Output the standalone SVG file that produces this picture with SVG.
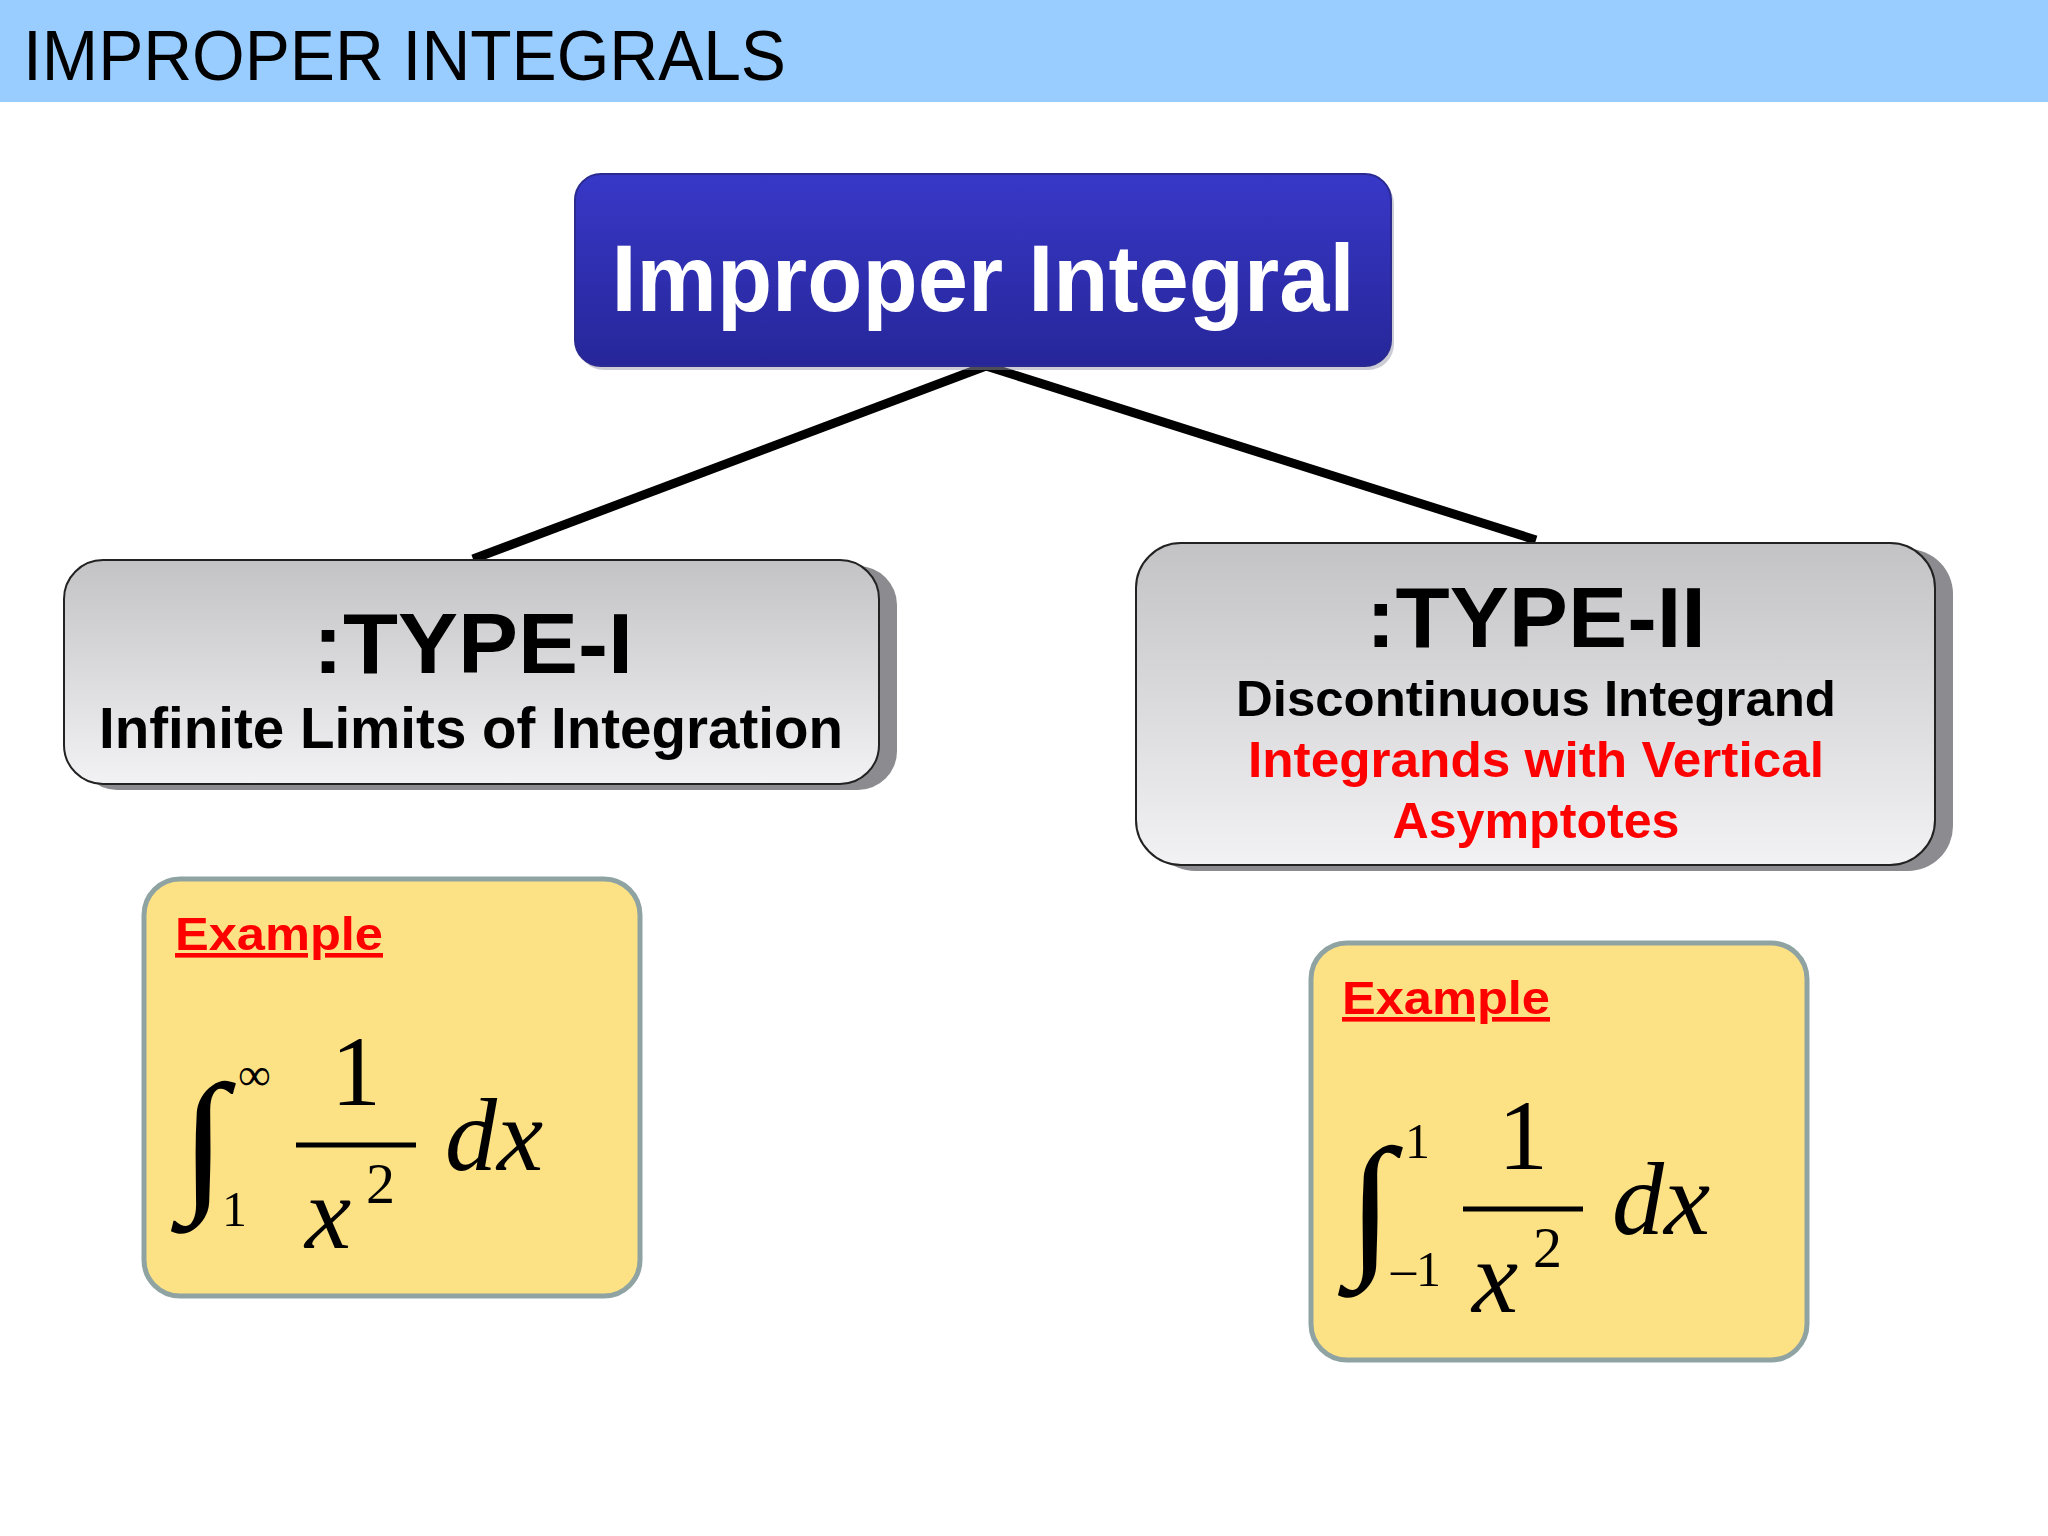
<svg xmlns="http://www.w3.org/2000/svg" width="2048" height="1536" viewBox="0 0 2048 1536">
<style>
.sans{font-family:"Liberation Sans",Arial,sans-serif}
.b{font-weight:bold}
.math{font-family:"Liberation Serif","Times New Roman",serif;fill:#000}
.it{font-style:italic}
.ex{fill:#fde185;stroke:#8fa3a3;stroke-width:5}
.gray{fill:url(#gg);stroke:#222;stroke-width:2}
.shadow{fill:#8c8c90}
</style>
<defs>
<linearGradient id="bg" x1="0" y1="0" x2="0" y2="1"><stop offset="0" stop-color="#3838c8"/><stop offset="1" stop-color="#262699"/></linearGradient>
<linearGradient id="gg" x1="0" y1="0" x2="0" y2="1"><stop offset="0" stop-color="#c3c3c6"/><stop offset="1" stop-color="#f2f2f4"/></linearGradient>
</defs>
<rect width="2048" height="1536" fill="#fff"/>
<rect x="0" y="0" width="2048" height="102" fill="#99ccff"/>
<text class="sans" x="23" y="80" font-size="70" textLength="763" lengthAdjust="spacingAndGlyphs">IMPROPER INTEGRALS</text>
<g id="connectors" stroke="#000" stroke-width="9" fill="none">
<line x1="986" y1="366" x2="473" y2="559"/>
<line x1="986" y1="366" x2="1536" y2="540"/>
</g>
<g id="root">
<rect x="578" y="178" width="816" height="192" rx="26" fill="#9a9ab0" opacity="0.5"/>
<rect x="575" y="174" width="816" height="192" rx="26" fill="url(#bg)" stroke="#2a2a90" stroke-width="2"/>
<text class="sans b" x="983" y="311" font-size="94" fill="#fff" text-anchor="middle" textLength="743" lengthAdjust="spacingAndGlyphs">Improper Integral</text>
</g>
<g id="type1">
<rect class="shadow" x="78" y="566" width="819" height="224" rx="39"/>
<rect class="gray" x="64" y="560" width="815" height="224" rx="39"/>
<text class="sans b" x="473" y="673" font-size="86" text-anchor="middle" textLength="320" lengthAdjust="spacingAndGlyphs">:TYPE-I</text>
<text class="sans b" x="471" y="748" font-size="58" text-anchor="middle" textLength="744" lengthAdjust="spacingAndGlyphs">Infinite Limits of Integration</text>
</g>
<g id="type2">
<rect class="shadow" x="1150" y="549" width="803" height="322" rx="45"/>
<rect class="gray" x="1136" y="543" width="799" height="322" rx="45"/>
<text class="sans b" x="1536" y="647" font-size="86" text-anchor="middle" textLength="340" lengthAdjust="spacingAndGlyphs">:TYPE-II</text>
<text class="sans b" x="1536" y="716" font-size="50" text-anchor="middle" textLength="600" lengthAdjust="spacingAndGlyphs">Discontinuous Integrand</text>
<text class="sans b" x="1536" y="777" font-size="50" fill="#f00" text-anchor="middle" textLength="576" lengthAdjust="spacingAndGlyphs">Integrands with Vertical</text>
<text class="sans b" x="1536" y="838" font-size="50" fill="#f00" text-anchor="middle" textLength="287" lengthAdjust="spacingAndGlyphs">Asymptotes</text>
</g>
<g id="example1">
<rect class="ex" x="144" y="879" width="496" height="417" rx="36"/>
<text class="sans b" x="175" y="950" font-size="46" fill="#f00" text-decoration="underline" textLength="208" lengthAdjust="spacingAndGlyphs">Example</text>
<text class="math" x="180" y="1192" font-size="156" transform="translate(180 1192) scale(1.1 1) translate(-180 -1192)">∫</text>
<text class="math" x="238" y="1090" font-size="46">∞</text>
<text class="math" x="222" y="1226" font-size="50">1</text>
<text class="math" x="356" y="1105" font-size="100" text-anchor="middle">1</text>
<line x1="296" y1="1145" x2="416" y2="1145" stroke="#000" stroke-width="5"/>
<text class="math it" x="305" y="1248" font-size="104">x</text>
<text class="math" x="366" y="1203" font-size="58">2</text>
<text class="math it" x="445" y="1170" font-size="104">dx</text>
</g>
<g id="example2" transform="translate(1167 64)">
<rect class="ex" x="144" y="879" width="496" height="417" rx="36"/>
<text class="sans b" x="175" y="950" font-size="46" fill="#f00" text-decoration="underline" textLength="208" lengthAdjust="spacingAndGlyphs">Example</text>
<text class="math" x="180" y="1192" font-size="156" transform="translate(180 1192) scale(1.1 1) translate(-180 -1192)">∫</text>
<text class="math" x="238" y="1094" font-size="50">1</text>
<text class="math" x="224" y="1222" font-size="50">–1</text>
<text class="math" x="356" y="1105" font-size="100" text-anchor="middle">1</text>
<line x1="296" y1="1145" x2="416" y2="1145" stroke="#000" stroke-width="5"/>
<text class="math it" x="305" y="1248" font-size="104">x</text>
<text class="math" x="366" y="1203" font-size="58">2</text>
<text class="math it" x="445" y="1170" font-size="104">dx</text>
</g>
</svg>
